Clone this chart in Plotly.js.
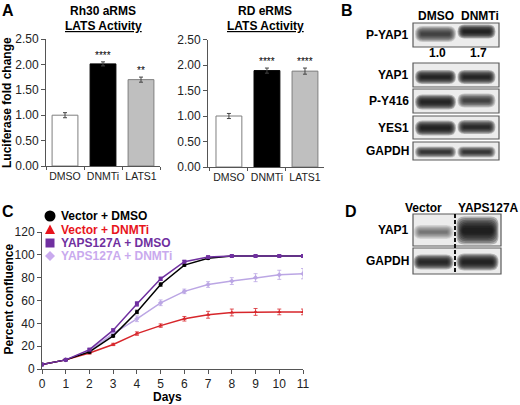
<!DOCTYPE html>
<html><head><meta charset="utf-8">
<script src="https://cdn.plot.ly/plotly-3.0.1.min.js"></script>
<style>html,body{margin:0;padding:0;background:#fff}#chart{width:520px;height:405px}</style>
</head><body><div id="chart"></div>
<script>
// ---------- Panel A data ----------
const conditionsA = ['DMSO', 'DNMTi', 'LATS1'];
const rh30Values = [1.00, 2.01, 1.70];
const rh30Errors = [0.05, 0.04, 0.05];
const rh30Signif = ['', '****', '**'];
const rdValues = [1.00, 1.89, 1.88];
const rdErrors = [0.05, 0.05, 0.06];
const rdSignif = ['', '****', '****'];
const yTicksA = [0, 0.5, 1.0, 1.5, 2.0, 2.5];

// ---------- Panel B data (western blot band intensities, 0-1) ----------
const blotBLanes = ['DMSO', 'DNMTi'];
const blotBProteins = ['P-YAP1', 'YAP1', 'P-Y416', 'YES1', 'GAPDH'];
const blotBDmso = [0.62, 0.92, 0.92, 0.95, 0.72];
const blotBDnmti = [0.95, 0.90, 0.62, 0.85, 0.72];
const pYap1Quant = ['1.0', '1.7'];

// ---------- Panel C data ----------
const days = [0, 1, 2, 3, 4, 5, 6, 7, 8, 9, 10, 11];
const vectorDmso = [4, 8, 15, 29, 50, 74, 91, 97, 99, 99, 99, 99];
const vectorDmsoErr = [0.5, 0.5, 1, 1, 1.5, 1.5, 1, 1, 0.5, 0.5, 0.5, 0.5];
const vectorDnmti = [4, 8, 14, 21.5, 31, 38, 44, 47.5, 49.5, 50, 50, 50];
const vectorDnmtiErr = [0.5, 0.5, 1, 1, 1.5, 1.5, 2, 3, 3, 3, 2.5, 2.5];
const yapDmso = [4, 8, 17, 34, 57, 79, 94, 98, 99, 99, 99, 99];
const yapDmsoErr = [0.5, 0.5, 1, 1, 2, 1.5, 1, 1, 0.5, 0.5, 0.5, 0.5];
const yapDnmti = [4, 8, 16, 31, 44, 58, 68, 74, 77, 80, 82.5, 83.5];
const yapDnmtiErr = [0.5, 0.5, 1, 1.5, 2.5, 2.5, 2, 2.5, 3, 3.5, 4, 4.5];
const seriesNamesC = ['Vector + DMSO', 'Vector + DNMTi', 'YAPS127A + DMSO', 'YAPS127A + DNMTi'];

// ---------- Panel D data ----------
const blotDLanes = ['Vector', 'YAPS127A'];
const blotDProteins = ['YAP1', 'GAPDH'];
const blotDVector = [0.32, 0.88];
const blotDYap = [1.00, 0.95];

// ---------- helpers ----------
const W = 520, H = 405;
const px = x => x / W;
const py = y => 1 - y / H;
const FONT = 'Liberation Sans, Arial, sans-serif';
const AX = '#555555';

const annotations = [];
const shapes = [];
function label(text, x, y, size, opts) {
  opts = opts || {};
  annotations.push(Object.assign({
    text: text, x: px(x), y: py(y), xref: 'paper', yref: 'paper',
    showarrow: false, xanchor: 'center', yanchor: 'middle',
    font: {family: FONT, size: size, color: opts.color || '#000'}
  }, opts.extra || {}));
}

// ---------- traces ----------
const barColors = ['#ffffff', '#000000', '#bfbfbf'];
const barLines = ['#7f7f7f', '#000000', '#7f7f7f'];
function barTrace(vals, errs, xa, ya) {
  return {
    type: 'bar', x: conditionsA, y: vals, xaxis: xa, yaxis: ya, width: 0.68,
    marker: {color: barColors, line: {color: barLines, width: 1}},
    error_y: {type: 'data', array: errs, visible: true, color: '#444', thickness: 1, width: 2},
    showlegend: false, hoverinfo: 'x+y'
  };
}
const data = [barTrace(rh30Values, rh30Errors, 'x', 'y'), barTrace(rdValues, rdErrors, 'x2', 'y2')];

const cColors = ['#000000', '#d7262b', '#7030a0', '#bba6e4'];
const cText = ['#000000', '#e8141c', '#7030a0', '#c9aaee'];
const cSymbols = ['circle', 'triangle-up', 'square', 'diamond'];
const cSeries = [vectorDmso, vectorDnmti, yapDmso, yapDnmti];
const cErr = [vectorDmsoErr, vectorDnmtiErr, yapDmsoErr, yapDnmtiErr];
[3, 1, 0, 2].forEach(i => {
  data.push({
    type: 'scatter', mode: 'lines+markers', name: seriesNamesC[i],
    x: days, y: cSeries[i], xaxis: 'x3', yaxis: 'y3',
    line: {color: cColors[i], width: 1.5},
    marker: {color: cColors[i], size: 4, symbol: cSymbols[i]},
    error_y: {type: 'data', array: cErr[i], visible: true, color: cColors[i], thickness: 0.8, width: 2},
    showlegend: false
  });
});

// significance stars
function stars(arr, vals, errs, xa, ya) {
  arr.forEach((s, i) => {
    if (!s) return;
    annotations.push({text: s, x: conditionsA[i], y: vals[i] + errs[i], xref: xa, yref: ya,
      showarrow: false, yanchor: 'bottom', yshift: -1,
      font: {family: FONT, size: 10, color: '#000'}});
  });
}
stars(rh30Signif, rh30Values, rh30Errors, 'x', 'y');
stars(rdSignif, rdValues, rdErrors, 'x2', 'y2');

// ---------- panel labels & titles ----------
label('<b>A</b>', 8, 10.5, 16);
label('<b>B</b>', 347, 10.5, 16);
label('<b>C</b>', 8, 211, 16);
label('<b>D</b>', 351, 211, 16);
label('<b>Rh30 aRMS</b>', 103, 11, 12);
label('<b><u>LATS Activity</u></b>', 103, 26, 12);
label('<b>RD eRMS</b>', 265, 11, 12);
label('<b><u>LATS Activity</u></b>', 265, 26, 12);
label('<b>Luciferase fold change</b>', 7, 103, 12, {extra: {textangle: -90}});
label('<b>Percent confluence</b>', 8.5, 299, 12, {extra: {textangle: -90}});
label('<b>Days</b>', 167, 397, 12);

// legend C (custom, compact)
const legRows = [216, 229.5, 243, 256];
const legSize = [5.5, 5, 4.5, 5];
seriesNamesC.forEach((n, i) => {
  label('<b>' + n + '</b>', 59, legRows[i], 12, {color: cText[i], extra: {xanchor: 'left'}});
  const cx = 50, cy = legRows[i], s = legSize[i];
  const st = {fillcolor: cText[i], line: {width: 0}, xref: 'paper', yref: 'paper', layer: 'above'};
  if (i === 0) shapes.push(Object.assign({type: 'circle', x0: px(cx - s), x1: px(cx + s), y0: py(cy + s), y1: py(cy - s)}, st));
  if (i === 1) shapes.push(Object.assign({type: 'path', path: `M${px(cx - s)},${py(cy + s - 0.5)} L${px(cx + s)},${py(cy + s - 0.5)} L${px(cx)},${py(cy - s)} Z`}, st));
  if (i === 2) shapes.push(Object.assign({type: 'rect', x0: px(cx - s), x1: px(cx + s), y0: py(cy + s), y1: py(cy - s)}, st));
  if (i === 3) shapes.push(Object.assign({type: 'path', path: `M${px(cx - s)},${py(cy)} L${px(cx)},${py(cy - s)} L${px(cx + s)},${py(cy)} L${px(cx)},${py(cy + s)} Z`}, st));
});

// ---------- blots ----------
function roundRect(x0, y0, x1, y1) {
  const r = Math.min((y1 - y0) / 2, (x1 - x0) / 2, 8);
  const P = (x, y) => `${px(x)},${py(y)}`;
  return `M${P(x0 + r, y0)} L${P(x1 - r, y0)} Q${P(x1, y0)} ${P(x1, y0 + r)} L${P(x1, y1 - r)} Q${P(x1, y1)} ${P(x1 - r, y1)} L${P(x0 + r, y1)} Q${P(x0, y1)} ${P(x0, y1 - r)} L${P(x0, y0 + r)} Q${P(x0, y0)} ${P(x0 + r, y0)} Z`;
}
function band(cx, cy, hw, hh, inten, clip) {
  const N = 8;
  for (let k = 0; k < N; k++) {
    const t = k / (N - 1);
    let w = hw + 2.5 - t * 6;
    let h = hh + 2.5 - t * (hh * 0.75 + 2.5);
    h = Math.max(h, 0.8);
    let y0 = cy - h, y1 = cy + h;
    if (clip) { y0 = Math.max(y0, clip[0] + 1); y1 = Math.min(y1, clip[1] - 1); }
    shapes.push({type: 'path', xref: 'paper', yref: 'paper', layer: 'above',
      path: roundRect(cx - w, y0, cx + w, y1),
      fillcolor: '#101010', opacity: Math.min(1, 0.27 * inten), line: {width: 0}});
  }
}
function box(x0, y0, x1, y1, fill) {
  shapes.push({type: 'rect', xref: 'paper', yref: 'paper', layer: fill ? 'below' : 'above',
    x0: px(x0), x1: px(x1), y0: py(y1), y1: py(y0),
    fillcolor: fill ? '#ececec' : 'rgba(0,0,0,0)', line: {color: fill ? 'rgba(0,0,0,0)' : '#5a5a5a', width: 1.2}});
}

// Panel B geometry
const bBoxX = [413, 499];
const bRows = [[23, 47], [63, 87], [89, 113], [116, 139], [142, 160]];
const bBandY = [[34, 31.5], [77, 77], [102, 100.5], [128, 127], [152, 152]];
const bBandH = [[5.5, 4.5], [4.5, 4.5], [5, 4.5], [5, 4.5], [3, 3]];
const bLaneX = [435.5, 476.5], bLaneHW = [18, 16.5];
const blotBVals = [blotBDmso, blotBDnmti];
label('<b>' + blotBLanes[0] + '</b>', bLaneX[0], 16, 12);
label('<b>' + blotBLanes[1] + '</b>', 480, 16, 12);
blotBProteins.forEach((p, r) => {
  box(bBoxX[0], bRows[r][0], bBoxX[1], bRows[r][1], true);
  [0, 1].forEach(l => band(bLaneX[l], bBandY[r][l], bLaneHW[l], bBandH[r][l], blotBVals[l][r], bRows[r]));
  box(bBoxX[0], bRows[r][0], bBoxX[1], bRows[r][1], false);
  label('<b>' + p + '</b>', 411, (bRows[r][0] + bRows[r][1]) / 2, 12, {extra: {xanchor: 'right'}});
});
label('<b>' + pYap1Quant[0] + '</b>', 437, 53.5, 12);
label('<b>' + pYap1Quant[1] + '</b>', 478, 53.5, 12);

// Panel D geometry
const dBoxX = [413, 501];
const dRows = [[214, 246], [248, 274]];
const dBandY = [[232, 230.5], [262, 262]];
const dBandH = [[4.5, 11.5], [5, 6]];
const dLaneX = [433.5, 477.5], dLaneHW = [17.5, 18.5];
const blotDVals = [blotDVector, blotDYap];
label('<b>' + blotDLanes[0] + '</b>', 423, 208, 12);
label('<b>' + blotDLanes[1] + '</b>', 488, 208, 12);
blotDProteins.forEach((p, r) => {
  box(dBoxX[0], dRows[r][0], dBoxX[1], dRows[r][1], true);
  [0, 1].forEach(l => band(dLaneX[l], dBandY[r][l], dLaneHW[l], dBandH[r][l], blotDVals[l][r], dRows[r]));
  box(dBoxX[0], dRows[r][0], dBoxX[1], dRows[r][1], false);
  label('<b>' + p + '</b>', 411, (dRows[r][0] + dRows[r][1]) / 2, 12, {extra: {xanchor: 'right'}});
});
shapes.push({type: 'line', xref: 'paper', yref: 'paper', x0: px(455), x1: px(455), y0: py(214), y1: py(274),
  line: {color: '#111', width: 2, dash: '4px,2px'}, layer: 'above'});

// ---------- layout ----------
const tickFontY = {family: FONT, size: 12, color: '#222'};
const tickFontX = {family: FONT, size: 10.5, color: '#222'};
function barY(domain) {
  return {domain: domain, range: [0, 2.5], tickvals: yTicksA, tickformat: '.2f', showline: true, linecolor: AX,
    linewidth: 1, ticks: 'outside', ticklen: 4, tickcolor: AX, showgrid: false, zeroline: false,
    tickfont: tickFontY, fixedrange: true};
}
function barX(domain, range) {
  return {domain: domain, range: range, showline: true, linecolor: AX, linewidth: 1, ticks: 'outside',
    tickson: 'boundaries', ticklen: 3, tickcolor: AX, tickangle: 0,
    tickfont: tickFontX, showgrid: false, zeroline: false, fixedrange: true};
}
const layout = {
  width: W, height: H, margin: {l: 0, r: 0, t: 0, b: 0}, paper_bgcolor: '#fff', plot_bgcolor: 'rgba(0,0,0,0)',
  font: {family: FONT}, showlegend: false, bargap: 0.3,
  xaxis: Object.assign(barX([px(46), px(160)], [-0.5, 2.5]), {anchor: 'y'}),
  yaxis: Object.assign(barY([py(166), py(39)]), {anchor: 'x'}),
  xaxis2: Object.assign(barX([px(208), px(324)], [-0.55, 2.5]), {anchor: 'y2'}),
  yaxis2: Object.assign(barY([py(167), py(39.5)]), {anchor: 'x2'}),
  xaxis3: {domain: [px(42), px(303)], range: [0, 11], anchor: 'y3', tickvals: days, showline: true, linecolor: AX,
    ticks: 'outside', ticklen: 4, tickcolor: AX, showgrid: false, zeroline: false, tickfont: {family: FONT, size: 12, color: '#222'}},
  yaxis3: {domain: [py(369), py(232)], range: [0, 120], anchor: 'x3', tickvals: [0, 20, 40, 60, 80, 100, 120],
    showline: true, linecolor: AX, ticks: 'outside', ticklen: 4, tickcolor: AX, showgrid: false, zeroline: false,
    tickfont: {family: FONT, size: 12, color: '#222'}},
  annotations: annotations, shapes: shapes
};
Plotly.newPlot('chart', data, layout, {displayModeBar: false, staticPlot: true});
</script></body></html>
